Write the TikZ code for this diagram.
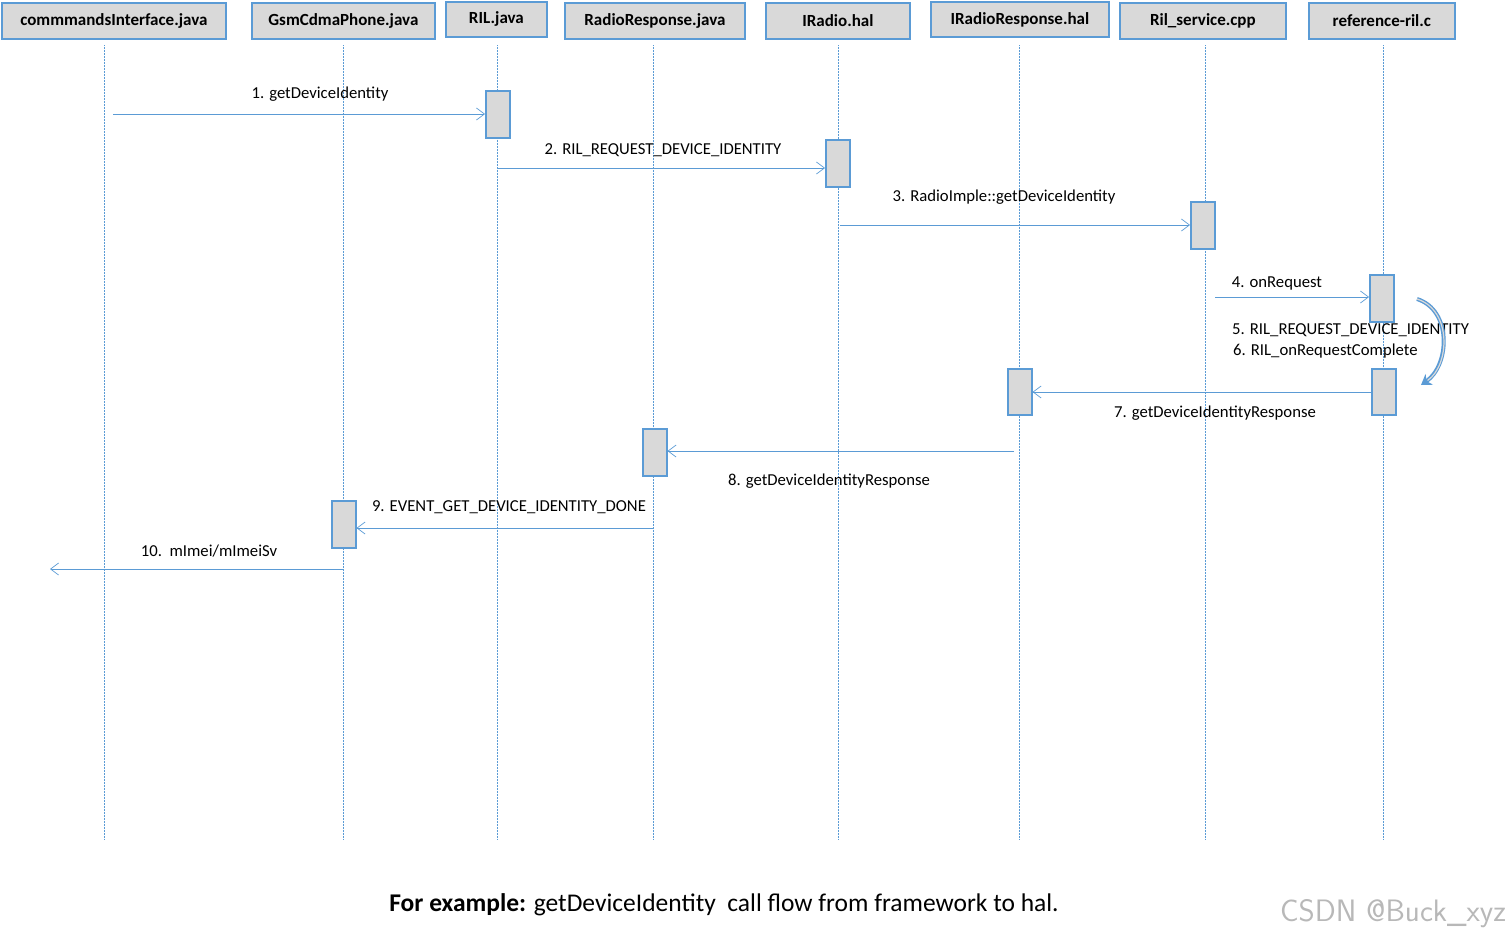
\documentclass[tikz,border=0pt]{standalone}
\usepackage{fontspec}
\setmainfont{Carlito}
\usetikzlibrary{arrows.meta}
\definecolor{bl}{RGB}{91,155,213}
\definecolor{gb}{RGB}{217,217,217}
\tikzset{x=1pt,y=-1pt,
 head/.style={draw=bl,line width=1.8pt,fill=gb,font=\fontsize{17}{19}\selectfont\bfseries,inner sep=0,anchor=north west},
 life/.style={draw=bl,line width=0.5pt,densely dotted},
 act/.style={draw=bl,line width=1.5pt,fill=gb,minimum width=24pt,inner sep=0,anchor=north west},
 msg/.style={draw=bl,line width=0.7pt,-{Straight Barb[length=8pt,width=12pt]}},
 lab/.style={font=\fontsize{16.7}{19}\selectfont,inner sep=1pt}}
\begin{document}
\begin{tikzpicture}
\useasboundingbox (0,0) rectangle (1510,937);
\foreach \n/\a/\b/\t/\y/\h/\lx in {h1/1/225/commmandsInterface.java/2/36/104,h2/251/434/GsmCdmaPhone.java/2/36/343,h3/445/546/RIL.java/1/35/497,h4/564/744/RadioResponse.java/2/36/653,h5/765/909/IRadio.hal/2/36/838,h6/930/1108/IRadioResponse.hal/1/35/1019,h7/1119/1285/Ril\_service.cpp/2/36/1205,h8/1308/1454/reference-ril.c/2/36/1383}{
 \node[head,minimum width={\b-\a},minimum height=\h] (\n) at (\a,\y) {\t};
 \coordinate (\n t) at (\lx,45); \coordinate (\n b) at (\lx,840);
 \draw[life] (\n t) -- (\n b);}
\node[act,minimum height=47] (a1) at (485,90) {};
\node[act,minimum height=47] (a2) at (825,139) {};
\node[act,minimum height=47] (a3) at (1190,201) {};
\node[act,minimum height=47] (a4) at (1369,274) {};
\node[act,minimum height=46] (a5) at (1371,368) {};
\node[act,minimum height=46] (a6) at (1007,368) {};
\node[act,minimum height=47] (a7) at (642,428) {};
\node[act,minimum height=47] (a8) at (331,500) {};
\coordinate (s1) at (113,114); \draw[msg] (s1) -- (a1.west|-s1);
\coordinate (s2) at (497,168); \draw[msg] (s2) -- (a2.west|-s2);
\coordinate (s3) at (840,225); \draw[msg] (s3) -- (a3.west|-s3);
\coordinate (s4) at (1215,297); \draw[msg] (s4) -- (a4.west|-s4);
\coordinate (s7) at (a5.west|-0,392); \draw[msg] (s7) -- (a6.east|-s7);
\coordinate (s8) at (1014,451); \draw[msg] (s8) -- (a7.east|-s8);
\coordinate (s9) at (653,528); \draw[msg] (s9) -- (a8.east|-s9);
\coordinate (s10) at (343,569); \coordinate (e10) at (50,569); \draw[msg] (s10) -- (e10);
\node[lab] (l1) at (320,94) {1. getDeviceIdentity};
\node[lab] (l2) at (663,150) {2. RIL\_REQUEST\_DEVICE\_IDENTITY};
\node[lab] (l3) at (1004,197) {3. RadioImple::getDeviceIdentity};
\node[lab] (l4) at (1277,283) {4. onRequest};
\node[lab,anchor=west] (l5) at (1231,330) {5. RIL\_REQUEST\_DEVICE\_IDENTITY};
\node[lab,anchor=west] (l6) at (1232,351) {6. RIL\_onRequestComplete};
\node[lab] (l7) at (1215,413) {7. getDeviceIdentityResponse};
\node[lab] (l8) at (829,481) {8. getDeviceIdentityResponse};
\node[lab] (l9) at (509,507) {9. EVENT\_GET\_DEVICE\_IDENTITY\_DONE};
\node[lab] (l10) at (209,551) {10.\ \ mImei/mImeiSv};
\coordinate (c1) at (1417,299); \coordinate (c2) at (1421,385);
\draw[bl,line width=4pt,-{Stealth[length=10pt,width=13pt]}] (c1) .. controls (1452,310) and (1450,365) .. (c2);
\draw[gb,line width=1.2pt,shorten >=8pt] (c1) .. controls (1452,310) and (1450,365) .. (c2);
\node[font=\fontsize{25.5}{30}\selectfont,anchor=base] (ft) at (724,911) {\textbf{For example:} getDeviceIdentity\ \ call flow from framework to hal.};
\node[font=\fontsize{31}{36}\selectfont\sffamily,text=black!28,anchor=base] (wm) at (1393,921) {CSDN @Buck\_xyz};
\end{tikzpicture}
\end{document}
